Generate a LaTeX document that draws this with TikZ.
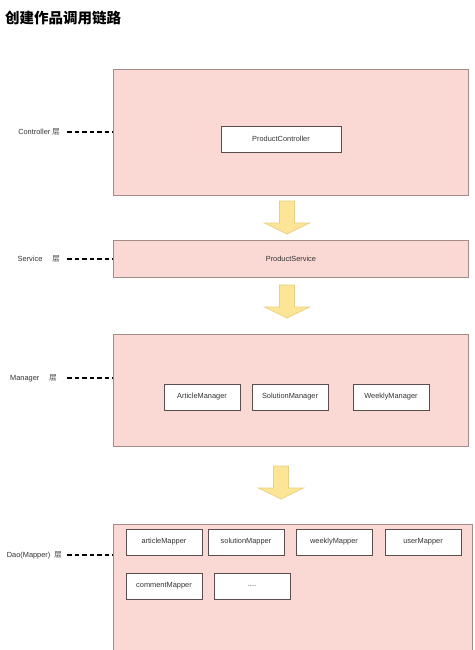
\documentclass[tikz,border=0pt]{standalone}
\usepackage{fontspec}
\setmainfont{Liberation Sans}
\newfontfamily\cjk{Noto Sans CJK SC}
\usetikzlibrary{positioning}
\definecolor{layerfill}{HTML}{FAD9D5}
\definecolor{layerline}{HTML}{A58B88}
\definecolor{boxline}{HTML}{5B4D4D}
\definecolor{arrowfill}{HTML}{FDE597}
\definecolor{arrowline}{HTML}{E9CF7E}
\definecolor{inktext}{HTML}{333333}
\tikzset{
  layer/.style={draw=layerline, fill=layerfill, line width=0.8pt},
  unit/.style={draw=boxline, fill=white, line width=0.9pt, minimum width=76pt,
               minimum height=26pt, inner sep=0pt, text=inktext,
               font=\fontsize{7.4}{8}\selectfont},
  lbl/.style={anchor=east, inner sep=0pt, text=inktext, font=\fontsize{7.4}{8}\selectfont},
  layerdash/.style={dash pattern=on 4.5pt off 3pt, line width=1.1pt, black},
  downflow/.style={draw=arrowline, fill=arrowfill, line width=0.7pt},
}
% block arrow: centre x, top y
\newcommand\flowdown[2]{%
  \draw[downflow] (#1-7.5,#2) -- (#1+7.5,#2) -- (#1+7.5,#2+22) -- (#1+22.5,#2+22)
    -- (#1,#2+33) -- (#1-22.5,#2+22) -- (#1-7.5,#2+22) -- cycle;}
\begin{document}
\begin{tikzpicture}[x=1pt, y=-1pt]
  \useasboundingbox[fill=white] (0,0) rectangle (474,650);
  \node (title) [anchor=west, inner sep=0pt, font=\cjk\bfseries\fontsize{14.5}{16}\selectfont]
    at (5,18) {创建作品调用链路};

  % layers
  \node (ctrl) [layer, minimum width=355pt, minimum height=126pt, anchor=north west, inner sep=0pt] at (113,69) {};
  \node (svc) [layer, minimum width=355pt, minimum height=37pt, anchor=north west, inner sep=0pt] at (113,240) {};
  \node (mgr) [layer, minimum width=355pt, minimum height=112pt, anchor=north west, inner sep=0pt] at (113,334) {};
  \draw[layer] (113,656) -- (113,524) -- (472,524) -- (472,656);

  % layer names
  \node (lc) [lbl] at (60,132) {Controller {\cjk 层}};
  \node (ls) [lbl] at (60,259) {Service\hspace{10pt}{\cjk 层}};
  \node (lm) [lbl] at (57,378) {Manager\hspace{10pt}{\cjk 层}};
  \node (ld) [lbl] at (62,555) {Dao(Mapper)\hspace{4pt}{\cjk 层}};
  \draw[layerdash] ([xshift=7pt]lc.east) -- (lc.east -| ctrl.west);
  \draw[layerdash] ([xshift=7pt]ls.east) -- (ls.east -| svc.west);
  \draw[layerdash] ([xshift=10pt]lm.east) -- (lm.east -| mgr.west);
  \draw[layerdash] ([xshift=5pt]ld.east) -- (112.6,555);

  % controller / service
  \node (pc) [unit, minimum width=120pt] at (281,139) {ProductController};
  \node (ps) [text=inktext, font=\fontsize{7.4}{8}\selectfont] at (svc.center) {ProductService};

  % managers
  \node (am) [unit] at (202,397) {ArticleManager};
  \node (sm) [unit] at (290,397) {SolutionManager};
  \node (wm) [unit] at (391,397) {WeeklyManager};

  % mappers
  \node (artm) [unit] at (164,542) {articleMapper};
  \node (solm) [unit] at (246,542) {solutionMapper};
  \node (wkm) [unit] at (334,542) {weeklyMapper};
  \node (usm) [unit] at (423,542) {userMapper};
  \node (cmm) [unit] at (164,586) {commentMapper};
  \node (more) [unit] at (252,586) {....};

  % flow between layers
  \flowdown{287}{201}
  \flowdown{287}{285}
  \flowdown{281}{466}
\end{tikzpicture}
\end{document}
